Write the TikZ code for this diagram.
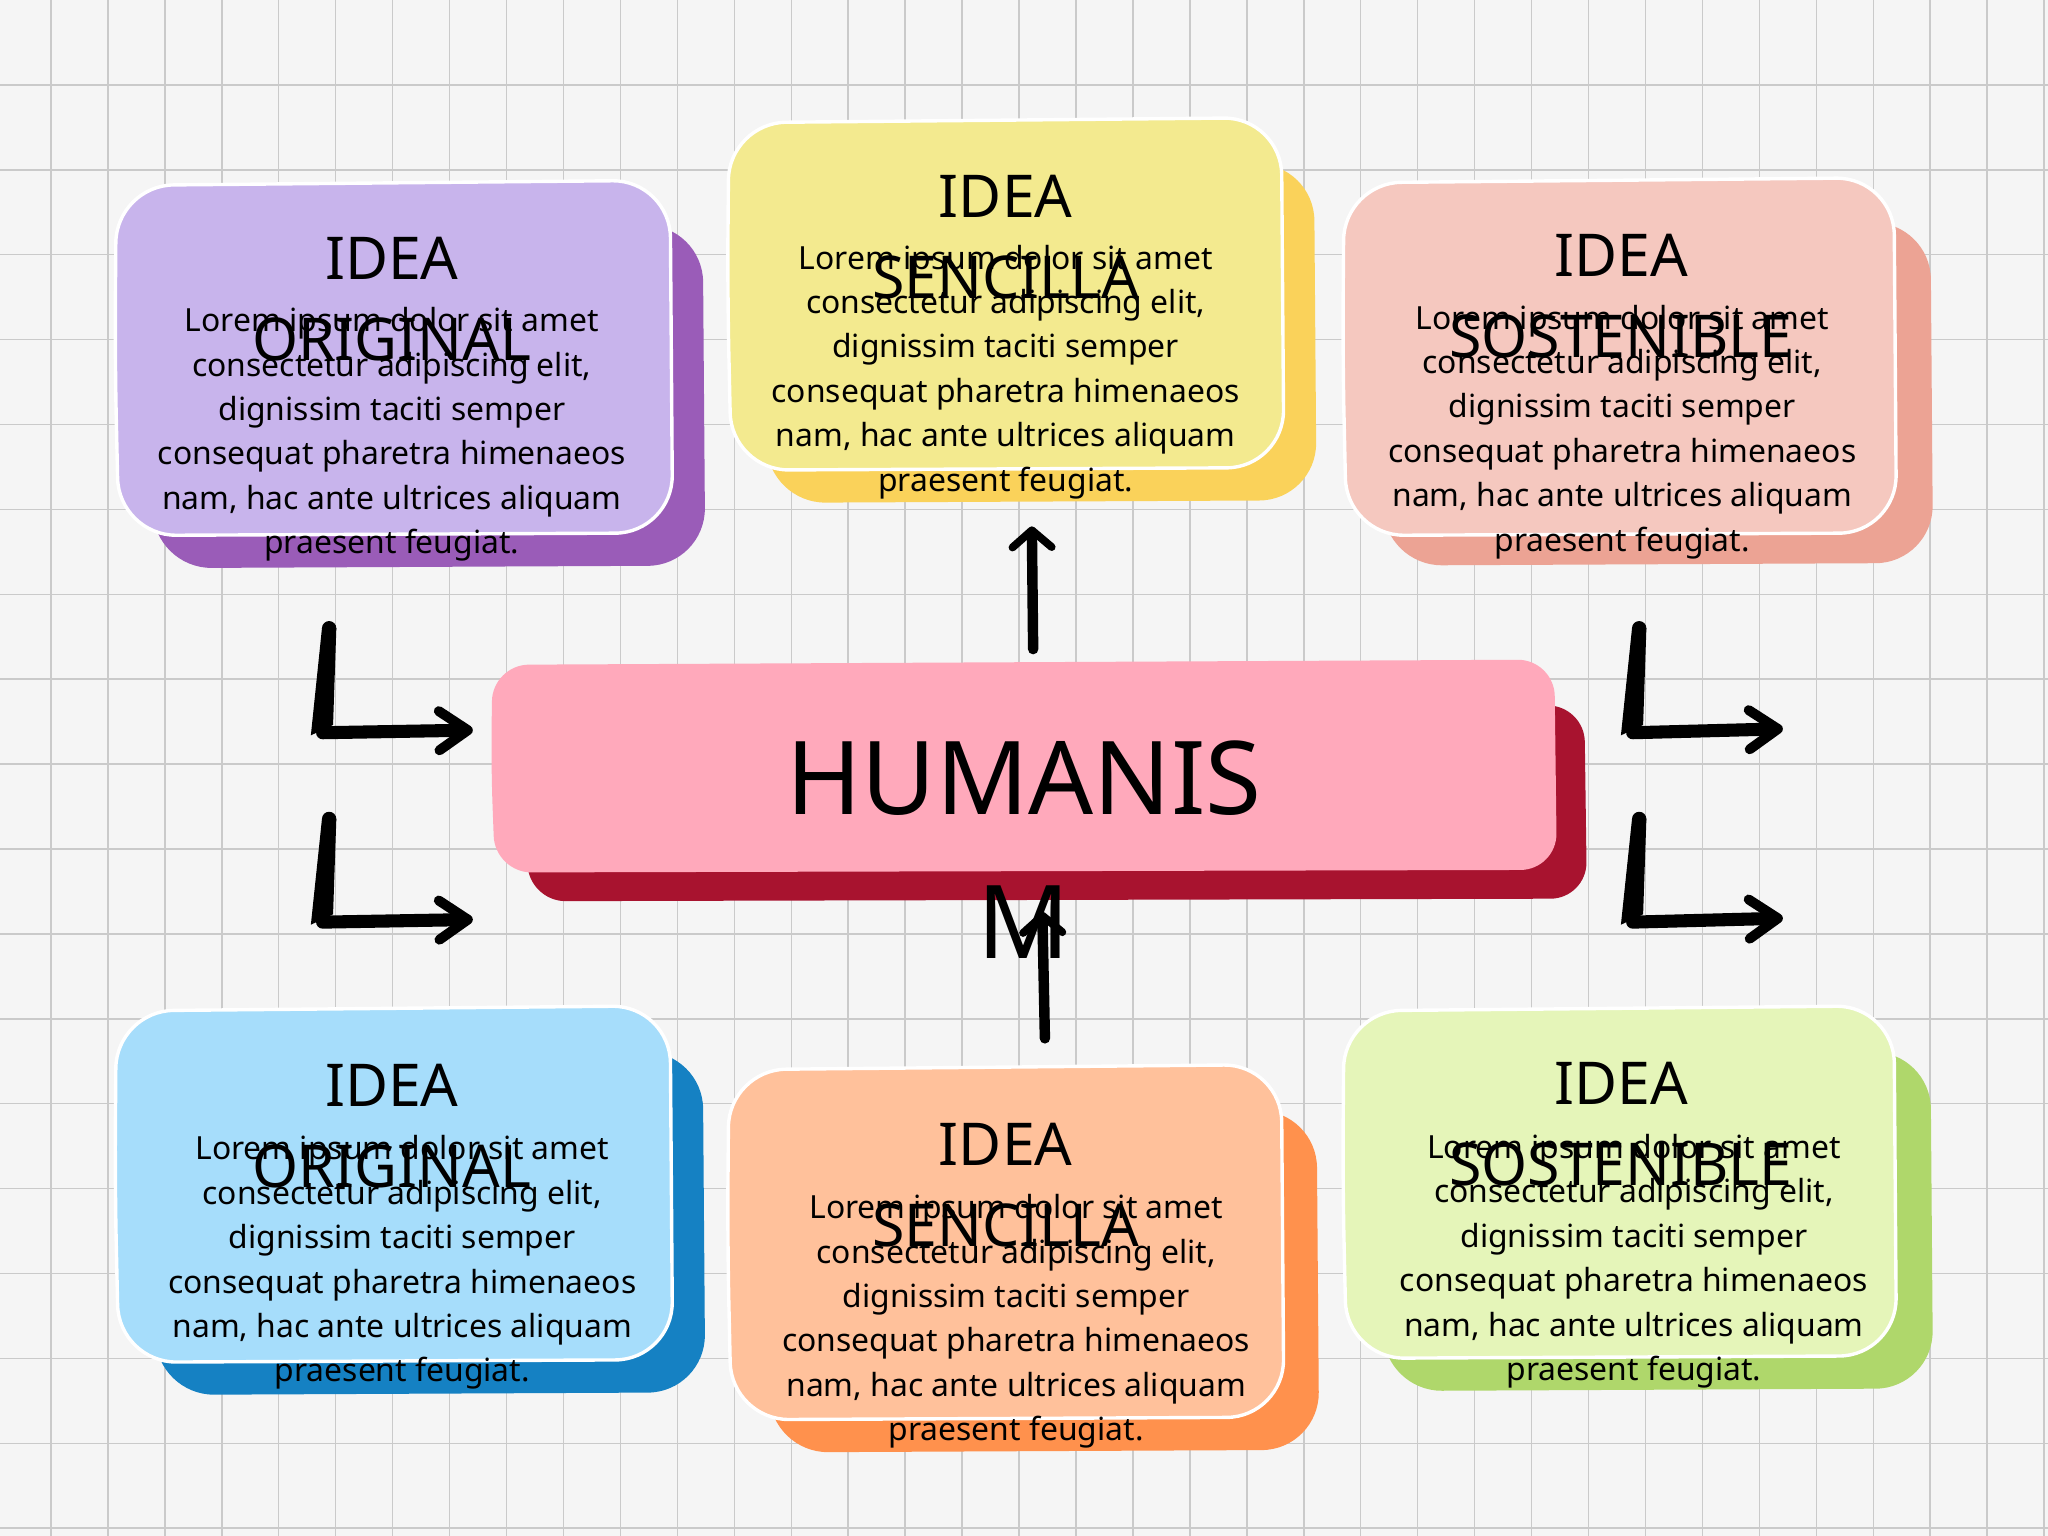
\documentclass[tikz,border=0pt]{standalone}
\usepackage{fontspec}
\setmainfont{Noto Sans}
\usetikzlibrary{arrows.meta,calc}
\definecolor{cBg}{HTML}{F5F5F5}
\definecolor{cGrid}{HTML}{CACACA}
\definecolor{cPurpleB}{HTML}{9A5CB8}
\definecolor{cPurpleF}{HTML}{C8B4EC}
\definecolor{cYellowB}{HTML}{FAD25A}
\definecolor{cYellowF}{HTML}{F3EA8F}
\definecolor{cPinkB}{HTML}{ECA394}
\definecolor{cPinkF}{HTML}{F5C8BF}
\definecolor{cBlueB}{HTML}{1581C3}
\definecolor{cBlueF}{HTML}{A6DDFB}
\definecolor{cOrangeB}{HTML}{FF914D}
\definecolor{cOrangeF}{HTML}{FFC19B}
\definecolor{cGreenB}{HTML}{AFD76B}
\definecolor{cGreenF}{HTML}{E5F5B9}
\definecolor{cRedB}{HTML}{A8132F}
\definecolor{cRedF}{HTML}{FFA9BB}
\newcommand{\blobbox}[5]{\path[#5] (#1,{(#2+#4)/2}) -- (#1+1,#2+4) -- (#3-2,#2) -- (#3,#4-2) -- (#1+3,#4) -- cycle;}
\newcommand{\loremtxt}{Lorem ipsum dolor sit amet\\consectetur adipiscing elit,\\dignissim taciti semper\\consequat pharetra himenaeos\\nam, hac ante ultrices aliquam\\praesent feugiat.}
\newcommand{\titletxt}[1]{\parbox[t]{260pt}{\centering\fontsize{22.6}{31}\selectfont #1}}
\newcommand{\bodytxt}{\parbox[t]{250pt}{\centering\fontsize{12.2}{17}\selectfont\loremtxt}}
\begin{document}
\begin{tikzpicture}[x=0.5pt,y=-0.5pt,
  gridline/.style={draw=cGrid, line width=0.55pt},
  backbox/.style={fill=#1, rounded corners=22pt},
  frontbox/.style={fill=#1, draw=white, line width=1.3pt, rounded corners=22pt},
  cbackbox/.style={fill=#1, rounded corners=14pt},
  cfrontbox/.style={fill=#1, rounded corners=14pt},
  ptext/.style={anchor=base, inner sep=0pt, text=black},
  lconn/.style={draw=black, line width=5pt, line cap=round, line join=round,
     -{Straight Barb[length=11pt,width=15pt,line width=3.8pt,round]}},
  uconn/.style={draw=black, line width=4pt, line cap=round,
     -{Straight Barb[length=6.5pt,width=15pt,line width=3pt,round]}}]
\useasboundingbox (0,0) rectangle (1568,1176);
\fill[cBg] (0,0) rectangle (1568,1176);
% grid
\foreach \i in {0,...,35} \draw[gridline] ({39+43.6*\i},0) -- ({39+43.6*\i},1176);
\foreach \j in {1,...,18} \draw[gridline] (0,{65*\j}) -- (1568,{65*\j});
% back boxes
\blobbox{115}{172}{540}{435}{backbox=cPurpleB}
\blobbox{585}{125}{1008}{385}{backbox=cYellowB}
\blobbox{1057}{170}{1480}{433}{backbox=cPinkB}
\blobbox{117}{805}{540}{1068}{backbox=cBlueB}
\blobbox{587}{850}{1010}{1112}{backbox=cOrangeB}
\blobbox{1057}{805}{1480}{1065}{backbox=cGreenB}
\blobbox{402}{540}{1215}{690}{cbackbox=cRedB}
% front boxes
\blobbox{88}{138}{515}{410}{frontbox=cPurpleF}
\blobbox{557}{90}{983}{360}{frontbox=cYellowF}
\blobbox{1028}{136}{1452}{410}{frontbox=cPinkF}
\blobbox{88}{770}{515}{1043}{frontbox=cBlueF}
\blobbox{557}{815}{983}{1087}{frontbox=cOrangeF}
\blobbox{1028}{770}{1452}{1040}{frontbox=cGreenF}
\blobbox{376}{505}{1192}{668}{cfrontbox=cRedF}
% texts
\node[ptext] (t1) at (300,214) {\titletxt{IDEA\\ORIGINAL}};
\node[ptext] (b1) at (300,254) {\bodytxt};
\node[ptext] (t2) at (770,166.5) {\titletxt{IDEA\\SENCILLA}};
\node[ptext] (b2) at (770,206) {\bodytxt};
\node[ptext] (t3) at (1241,211.5) {\titletxt{IDEA\\SOSTENIBLE}};
\node[ptext] (b3) at (1242,252) {\bodytxt};
\node[ptext] (t4) at (300,847.5) {\titletxt{IDEA\\ORIGINAL}};
\node[ptext] (b4) at (308,888) {\bodytxt};
\node[ptext] (t5) at (770,892.5) {\titletxt{IDEA\\SENCILLA}};
\node[ptext] (b5) at (778,933) {\bodytxt};
\node[ptext] (t6) at (1241,845.5) {\titletxt{IDEA\\SOSTENIBLE}};
\node[ptext] (b6) at (1251,887) {\bodytxt};
\node[ptext] (hum) at (784,623.5) {\parbox[t]{300pt}{\centering\fontsize{39}{55}\selectfont HUMANIS\\M}};
% arrow coordinates
\coordinate (l1t) at (252,481); \coordinate (l1c) at (247,561); \coordinate (l1e) at (362,559);
\coordinate (l2t) at (252,627); \coordinate (l2c) at (247,706); \coordinate (l2e) at (362,704);
\coordinate (r1t) at (1255,481); \coordinate (r1c) at (1250,561); \coordinate (r1e) at (1365,558);
\coordinate (r2t) at (1255,627); \coordinate (r2c) at (1250,706); \coordinate (r2e) at (1365,703);
\coordinate (u1s) at (791,497); \coordinate (u1e) at (790,403);
\coordinate (u2s) at (800,795); \coordinate (u2e) at (798,698);
% L connectors
\foreach \a in {l1,l2,r1,r2}{
  \fill ($(\a t)+(-5.5,0)$) -- ($(\a t)+(5.5,0)$) -- ($(\a c)+(8,-6)$) -- ($(\a c)+(-9,2)$) -- cycle;
  \fill (\a t) circle[radius=2.75pt];
  \draw[lconn] (\a t) -- (\a c) -- (\a e);
}
% vertical connectors
\draw[uconn] (u1s) -- (u1e);
\draw[uconn] (u2s) -- (u2e);
\end{tikzpicture}
\end{document}
